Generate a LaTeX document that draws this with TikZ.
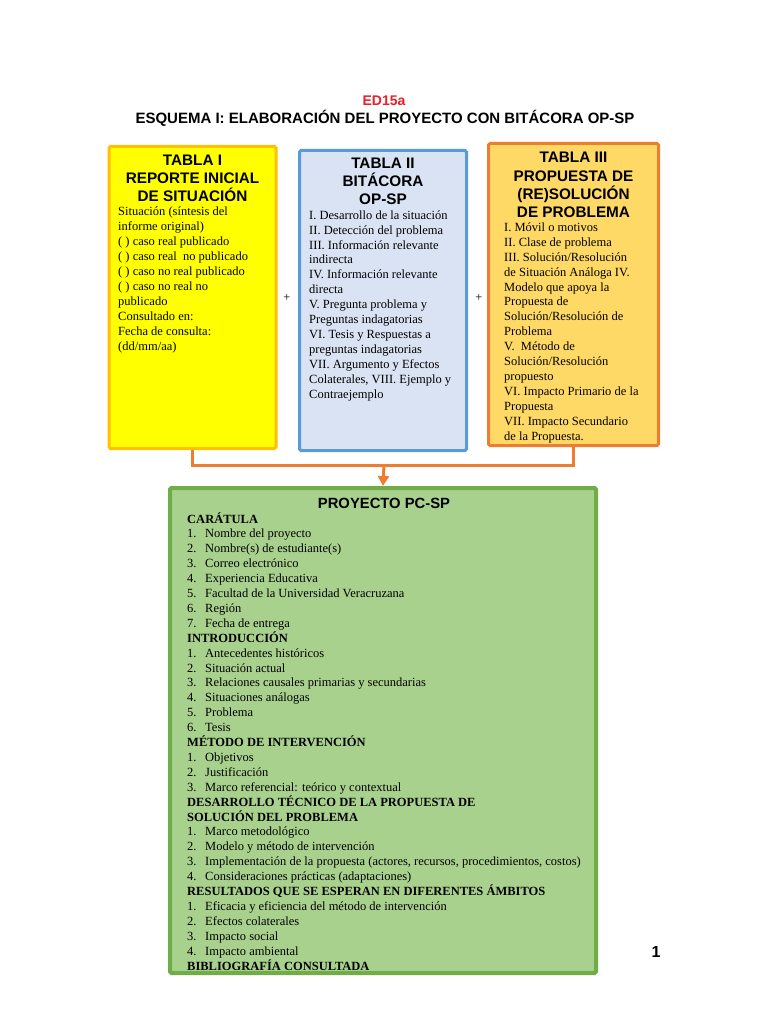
\documentclass[tikz,border=0pt]{standalone}
\usepackage{fontspec}
\setmainfont{Liberation Serif}
\setsansfont{Liberation Sans}
\usetikzlibrary{arrows.meta}
\definecolor{amarillo}{HTML}{FFFF00}
\definecolor{oro}{HTML}{FFC000}
\definecolor{azulclaro}{HTML}{DAE3F3}
\definecolor{azul}{HTML}{5B9BD5}
\definecolor{durazno}{HTML}{FFD966}
\definecolor{naranja}{HTML}{ED7D31}
\definecolor{verdeclaro}{HTML}{A9D18E}
\definecolor{verde}{HTML}{70AD47}
\definecolor{rojo}{HTML}{E8202A}
\newcommand{\punto}[2]{\makebox[18pt][l]{#1.}#2}
\tikzset{
  tabla/.style={draw, line width=3pt, rounded corners=1.5pt, inner sep=0pt},
  titulo/.style={font=\sffamily\bfseries\fontsize{15.3}{18.2}\selectfont, align=center, anchor=base, inner sep=0pt},
  cuerpo/.style={font=\fontsize{12.5}{14.9}\selectfont, align=left, anchor=base west, inner sep=0pt},
}
\begin{document}
\begin{tikzpicture}[x=1pt,y=-1pt]
    \useasboundingbox[fill=white] (0,0) rectangle (768,1024);
    % la base de un nodo de varias lineas es la ultima linea
    \node[titulo, text=rojo, font=\sffamily\bfseries\fontsize{14}{15}\selectfont] (clave) at (384,106) {ED15a};
    \node[titulo, font=\sffamily\bfseries\fontsize{15}{15}\selectfont] (esquema) at (385,124) {ESQUEMA I: ELABORACIÓN DEL PROYECTO CON BITÁCORA OP-SP};
    % las tres tablas
    \node[tabla, draw=oro, fill=amarillo, minimum width=167, minimum height=302] (tI) at (192.5,297.5) {};
    \node[tabla, draw=azul, fill=azulclaro, minimum width=167, minimum height=300] (tII) at (383,300.5) {};
    \node[tabla, draw=naranja, fill=durazno, minimum width=170, minimum height=302] (tIII) at (573.5,294.5) {};
    \node[titulo] (tItit) at (192.5,201.5) {TABLA I\\REPORTE INICIAL\\DE SITUACIÓN};
    \node[titulo] (tIItit) at (383,205) {TABLA II\\BITÁCORA\\OP-SP};
    \node[titulo] (tIIItit) at (573.5,217.5) {TABLA III\\PROPUESTA DE\\(RE)SOLUCIÓN\\DE PROBLEMA};
    \node[cuerpo] (tItxt) at (118,350) {Situación (síntesis del\\informe original)\\( ) caso real publicado\\( ) caso real~ no publicado\\( ) caso no real publicado\\( ) caso no real no\\publicado\\Consultado en:\\Fecha de consulta:\\(dd/mm/aa)};
    \node[cuerpo] (tIItxt) at (309,398) {I. Desarrollo de la situación\\II. Detección del problema\\III. Información relevante\\indirecta\\IV. Información relevante\\directa\\V. Pregunta problema y\\Preguntas indagatorias\\VI. Tesis y Respuestas a\\preguntas indagatorias\\VII. Argumento y Efectos\\Colaterales, VIII. Ejemplo y\\Contraejemplo};
    \node[cuerpo] (tIIItxt) at (504,440) {I. Móvil o motivos\\II. Clase de problema\\III. Solución/Resolución\\de Situación Análoga IV.\\Modelo que apoya la\\Propuesta de\\Solución/Resolución de\\Problema\\V.~ Método de\\Solución/Resolución\\propuesto\\VI. Impacto Primario de la\\Propuesta\\VII. Impacto Secundario\\de la Propuesta.};
    \node[font=\fontsize{12.5}{14}\selectfont] (masI) at (287,298) {+};
    \node[font=\fontsize{12.5}{14}\selectfont] (masII) at (479,298) {+};
    % proyecto
    \node[tabla, draw=verde, fill=verdeclaro, line width=4pt, minimum width=426, minimum height=485] (proy) at (383,730.5) {};
    \node[titulo, font=\sffamily\bfseries\fontsize{14.8}{18}\selectfont] (proytit) at (384,508) {PROYECTO PC-SP};
    \node[cuerpo] (proytxt) at (187,970) {\textbf{CARÁTULA}\\
      \punto{1}{Nombre del proyecto}\\
      \punto{2}{Nombre(s) de estudiante(s)}\\
      \punto{3}{Correo electrónico}\\
      \punto{4}{Experiencia Educativa}\\
      \punto{5}{Facultad de la Universidad Veracruzana}\\
      \punto{6}{Región}\\
      \punto{7}{Fecha de entrega}\\
      \textbf{INTRODUCCIÓN}\\
      \punto{1}{Antecedentes históricos}\\
      \punto{2}{Situación actual}\\
      \punto{3}{Relaciones causales primarias y secundarias}\\
      \punto{4}{Situaciones análogas}\\
      \punto{5}{Problema}\\
      \punto{6}{Tesis}\\
      \textbf{MÉTODO DE INTERVENCIÓN}\\
      \punto{1}{Objetivos}\\
      \punto{2}{Justificación}\\
      \punto{3}{Marco referencial: teórico y contextual}\\
      \textbf{DESARROLLO TÉCNICO DE LA PROPUESTA DE}\\
      \textbf{SOLUCIÓN DEL PROBLEMA}\\
      \punto{1}{Marco metodológico}\\
      \punto{2}{Modelo y método de intervención}\\
      \punto{3}{Implementación de la propuesta (actores, recursos, procedimientos, costos)}\\
      \punto{4}{Consideraciones prácticas (adaptaciones)}\\
      \textbf{RESULTADOS QUE SE ESPERAN EN DIFERENTES ÁMBITOS}\\
      \punto{1}{Eficacia y eficiencia del método de intervención}\\
      \punto{2}{Efectos colaterales}\\
      \punto{3}{Impacto social}\\
      \punto{4}{Impacto ambiental}\\
      \textbf{BIBLIOGRAFÍA CONSULTADA}};
    % union de las tablas
    \coordinate (union) at (384,465);
    \draw[naranja, line width=3pt] (tI.south) |- (union) -| (tIII.south);
    \draw[naranja, line width=3pt, -{Triangle[width=11pt,length=10pt]}] (union) -- (proy.north);
    \node[titulo, font=\sffamily\bfseries\fontsize{16}{18}\selectfont] (pagina) at (656,957) {1};
\end{tikzpicture}
\end{document}
